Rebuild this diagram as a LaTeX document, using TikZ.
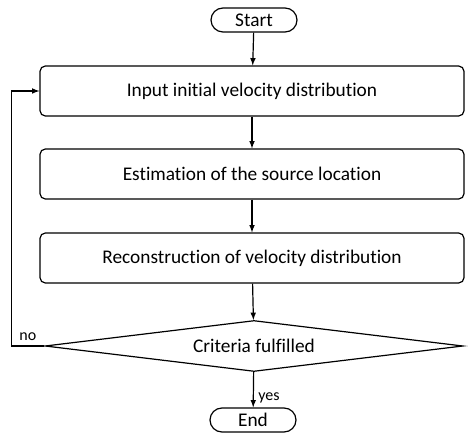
\documentclass[tikz,border=0pt]{standalone}
\usepackage{fontspec}
\setmainfont{Carlito}[Ligatures=NoCommon]
\usetikzlibrary{arrows}
\usetikzlibrary{shapes}

\begin{document}
\begin{tikzpicture}[x=0.75pt, y=-0.75pt, line width=0.9pt, >=latex,
				   every node/.style={font=\fontsize{14.5}{17}\selectfont},
				   terminal/.style={rounded rectangle, draw=black, minimum width=64.5pt, minimum height=18pt, inner sep=0pt},
				   process/.style={rectangle, rounded corners=4pt, draw=black, minimum width=318pt, minimum height=37.5pt},
				   decision/.style={diamond, draw=black, aspect=8.2, minimum width=313.5pt, minimum height=38.25pt, inner sep=0pt}]
\useasboundingbox (0,0) rectangle (474,441);
\node[terminal] (start) at (254,20) {Start};
\node[process] (input) at (252,91) {Input initial velocity distribution};
\node[process] (estim) at (252,174) {Estimation of the source location};
\node[process] (recon) at (252,258) {Reconstruction of velocity distribution};
\node[decision] (crit) at (254,346) {Criteria fulfilled};
\node[terminal] (end) at (253,420) {End};
\draw[->] (start) -- (input);
\draw[->] (input) -- (estim);
\draw[->] (estim) -- (recon);
\draw[->] (recon) -- (crit);
\draw[->] (crit) -- node[right, pos=0.72, font=\fontsize{12}{14}\selectfont] (yes) {yes} (end);
\draw[->] (crit.west) -- ++(-33,0) node[midway, above, font=\fontsize{12}{14}\selectfont] (no) {no} |- (input.west);
\end{tikzpicture}
\end{document}
